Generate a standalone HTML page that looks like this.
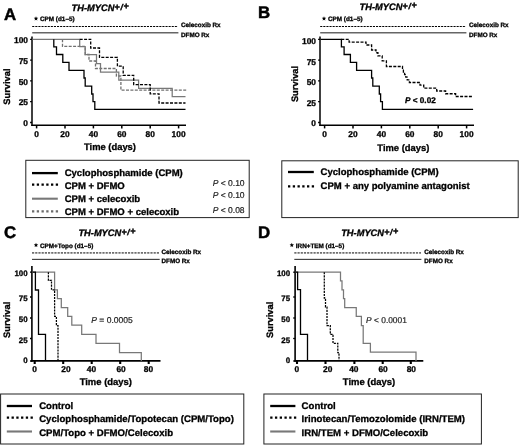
<!DOCTYPE html>
<html lang="en"><head><meta charset="utf-8"><title>Survival curves TH-MYCN</title>
<style>
html,body{margin:0;padding:0;background:#fff;}
body{width:520px;height:445px;overflow:hidden;}
svg{display:block;font-family:"Liberation Sans",Arial,Helvetica,sans-serif;text-rendering:geometricPrecision;}
svg text{stroke:#000;stroke-width:.3px;}
svg text.pv{stroke:#222;stroke-width:.2px;}
svg text.pl{stroke-width:.5px;}
</style></head><body>
<svg width="520" height="445" viewBox="0 0 520 445">
<rect width="520" height="445" fill="#fff"/>
<text x="4.10" y="20.00" font-size="16.8" font-weight="bold" text-anchor="start" fill="#000" class="pl">A</text>
<text x="71.60" y="11.00" font-size="9.3" font-weight="bold" font-style="italic">TH-MYCN<tspan font-size="8.8" dy="-1.4" dx="0.1" stroke-width=".45">+</tspan><tspan font-size="8.2" dy="0.6" dx="0.8" stroke-width=".4">/</tspan><tspan font-size="8.8" dy="-1.3" dx="0.7" stroke-width=".45">+</tspan></text>
<polygon points="36.00,16.25 36.61,17.76 38.23,17.87 36.98,18.92 37.38,20.50 36.00,19.63 34.62,20.50 35.02,18.92 33.77,17.87 35.39,17.76" fill="#000"/>
<text x="40.00" y="21.30" font-size="6.35" font-weight="bold" text-anchor="start" fill="#000">CPM (d1–5)</text>
<line x1="32.20" y1="26.50" x2="178.00" y2="26.50" stroke="#000" stroke-width="1.15" stroke-dasharray="2.1 1.0"/>
<line x1="32.20" y1="32.75" x2="178.40" y2="32.75" stroke="#666" stroke-width="1.7"/>
<text x="181.00" y="27.40" font-size="6.3" font-weight="bold" text-anchor="start" fill="#000">Celecoxib Rx</text>
<text x="181.00" y="36.60" font-size="6.3" font-weight="bold" text-anchor="start" fill="#000">DFMO Rx</text>
<line x1="32.00" y1="36.50" x2="32.00" y2="126.10" stroke="#000" stroke-width="1.5"/>
<line x1="31.30" y1="125.35" x2="186.00" y2="125.35" stroke="#000" stroke-width="1.5"/>
<line x1="30.10" y1="39.30" x2="32.00" y2="39.30" stroke="#000" stroke-width="1.3"/>
<text x="28.00" y="43.00" font-size="8.4" font-weight="bold" text-anchor="end" fill="#000">100</text>
<line x1="30.10" y1="60.10" x2="32.00" y2="60.10" stroke="#000" stroke-width="1.3"/>
<text x="28.00" y="64.00" font-size="8.4" font-weight="bold" text-anchor="end" fill="#000">75</text>
<line x1="30.10" y1="80.90" x2="32.00" y2="80.90" stroke="#000" stroke-width="1.3"/>
<text x="28.00" y="85.00" font-size="8.4" font-weight="bold" text-anchor="end" fill="#000">50</text>
<line x1="30.10" y1="101.70" x2="32.00" y2="101.70" stroke="#000" stroke-width="1.3"/>
<text x="28.00" y="105.00" font-size="8.4" font-weight="bold" text-anchor="end" fill="#000">25</text>
<line x1="30.10" y1="122.50" x2="32.00" y2="122.50" stroke="#000" stroke-width="1.3"/>
<text x="28.00" y="126.00" font-size="8.4" font-weight="bold" text-anchor="end" fill="#000">0</text>
<line x1="36.60" y1="125.20" x2="36.60" y2="128.40" stroke="#000" stroke-width="1.5"/>
<text x="36.60" y="137.00" font-size="8.4" font-weight="bold" text-anchor="middle" fill="#000">0</text>
<line x1="65.00" y1="125.20" x2="65.00" y2="128.40" stroke="#000" stroke-width="1.5"/>
<text x="65.00" y="137.00" font-size="8.4" font-weight="bold" text-anchor="middle" fill="#000">20</text>
<line x1="93.40" y1="125.20" x2="93.40" y2="128.40" stroke="#000" stroke-width="1.5"/>
<text x="93.40" y="137.00" font-size="8.4" font-weight="bold" text-anchor="middle" fill="#000">40</text>
<line x1="121.80" y1="125.20" x2="121.80" y2="128.40" stroke="#000" stroke-width="1.5"/>
<text x="121.80" y="137.00" font-size="8.4" font-weight="bold" text-anchor="middle" fill="#000">60</text>
<line x1="150.20" y1="125.20" x2="150.20" y2="128.40" stroke="#000" stroke-width="1.5"/>
<text x="150.20" y="137.00" font-size="8.4" font-weight="bold" text-anchor="middle" fill="#000">80</text>
<line x1="178.60" y1="125.20" x2="178.60" y2="128.40" stroke="#000" stroke-width="1.5"/>
<text x="178.60" y="137.00" font-size="8.4" font-weight="bold" text-anchor="middle" fill="#000">100</text>
<text transform="translate(10.30,86.6) rotate(-90)" font-size="9.3" font-weight="bold" text-anchor="middle">Survival</text>
<text x="110.00" y="149.70" font-size="9.4" font-weight="bold" text-anchor="middle" fill="#000">Time (days)</text>
<path d="M62.50 39.30 L62.50 46.30 L85.20 46.30 L85.20 54.50 L89.00 54.50 L89.00 61.00 L95.50 61.00 L95.50 68.50 L116.40 68.50 L116.40 76.00 L120.90 76.00 L120.90 90.20 L186.50 90.20" fill="none" stroke="#707070" stroke-width="1.3" stroke-dasharray="3 1.4" stroke-linejoin="miter"/>
<path d="M32.50 39.30 L79.70 39.30 L79.70 46.50 L85.20 46.50 L85.20 54.50 L96.50 54.50 L96.50 63.50 L100.50 63.50 L100.50 72.00 L118.80 72.00 L118.80 80.20 L138.60 80.20 L138.60 88.40 L172.20 88.40 L172.20 96.50 L185.50 96.50" fill="none" stroke="#787878" stroke-width="1.25" stroke-linejoin="miter"/>
<path d="M79.70 39.30 L90.70 39.30 L90.70 48.00 L99.50 48.00 L99.50 57.30 L117.40 57.30 L117.40 66.20 L123.20 66.20 L123.20 75.40 L133.70 75.40 L133.70 84.60 L150.20 84.60 L150.20 93.80 L159.00 93.80 L159.00 103.00 L185.50 103.00" fill="none" stroke="#000" stroke-width="1.3" stroke-dasharray="3 1.4" stroke-linejoin="miter"/>
<path d="M53.80 39.30 L53.80 46.80 L56.50 46.80 L56.50 54.50 L62.80 54.50 L62.80 62.30 L69.00 62.30 L69.00 70.30 L84.00 70.30 L84.00 78.00 L85.20 78.00 L85.20 86.20 L91.70 86.20 L91.70 94.00 L93.00 94.00 L93.00 101.60 L94.80 101.60 L94.80 109.30 L185.50 109.30" fill="none" stroke="#000" stroke-width="1.3" stroke-linejoin="miter"/>
<rect x="25.8" y="160.3" width="223.4" height="57.3" fill="#fff" stroke="#222" stroke-width="1"/>
<line x1="32.00" y1="173.10" x2="57.80" y2="173.10" stroke="#000" stroke-width="2.3"/>
<text x="64.70" y="176.10" font-size="9.54" font-weight="bold" text-anchor="start" fill="#000">Cyclophosphamide (CPM)</text>
<line x1="32.00" y1="184.70" x2="59.00" y2="184.70" stroke="#000" stroke-width="2.2" stroke-dasharray="2.3 2.45"/>
<text x="64.70" y="188.70" font-size="9.54" font-weight="bold" text-anchor="start" fill="#000">CPM + DFMO</text>
<line x1="32.00" y1="198.70" x2="57.80" y2="198.70" stroke="#787878" stroke-width="2.1"/>
<text x="64.70" y="202.40" font-size="9.54" font-weight="bold" text-anchor="start" fill="#000">CPM + celecoxib</text>
<line x1="32.00" y1="211.30" x2="59.00" y2="211.30" stroke="#6c6c6c" stroke-width="2.2" stroke-dasharray="2.3 2.45"/>
<text x="64.70" y="214.80" font-size="9.54" font-weight="bold" text-anchor="start" fill="#000">CPM + DFMO + celecoxib</text>
<text x="212.7" y="186" font-size="8.5" fill="#222" class="pv"><tspan font-style="italic">P</tspan> &lt; 0.10</text>
<text x="212.7" y="198" font-size="8.5" fill="#222" class="pv"><tspan font-style="italic">P</tspan> &lt; 0.10</text>
<text x="212.7" y="213" font-size="8.5" fill="#222" class="pv"><tspan font-style="italic">P</tspan> &lt; 0.08</text>
<text x="258.00" y="18.00" font-size="16.8" font-weight="bold" text-anchor="start" fill="#000" class="pl">B</text>
<text x="359.60" y="10.00" font-size="9.3" font-weight="bold" font-style="italic">TH-MYCN<tspan font-size="8.8" dy="-1.4" dx="0.1" stroke-width=".45">+</tspan><tspan font-size="8.2" dy="0.6" dx="0.8" stroke-width=".4">/</tspan><tspan font-size="8.8" dy="-1.3" dx="0.7" stroke-width=".45">+</tspan></text>
<polygon points="324.00,16.25 324.61,17.76 326.23,17.87 324.98,18.92 325.38,20.50 324.00,19.63 322.62,20.50 323.02,18.92 321.77,17.87 323.39,17.76" fill="#000"/>
<text x="328.00" y="21.30" font-size="6.35" font-weight="bold" text-anchor="start" fill="#000">CPM (d1–5)</text>
<line x1="320.20" y1="26.50" x2="466.00" y2="26.50" stroke="#000" stroke-width="1.15" stroke-dasharray="2.1 1.0"/>
<line x1="320.20" y1="32.75" x2="466.40" y2="32.75" stroke="#666" stroke-width="1.7"/>
<text x="469.00" y="27.40" font-size="6.3" font-weight="bold" text-anchor="start" fill="#000">Celecoxib Rx</text>
<text x="469.00" y="36.60" font-size="6.3" font-weight="bold" text-anchor="start" fill="#000">DFMO Rx</text>
<line x1="320.00" y1="36.50" x2="320.00" y2="126.10" stroke="#000" stroke-width="1.5"/>
<line x1="319.30" y1="125.35" x2="474.00" y2="125.35" stroke="#000" stroke-width="1.5"/>
<line x1="318.10" y1="39.30" x2="320.00" y2="39.30" stroke="#000" stroke-width="1.3"/>
<text x="316.00" y="44.00" font-size="8.4" font-weight="bold" text-anchor="end" fill="#000">100</text>
<line x1="318.10" y1="60.10" x2="320.00" y2="60.10" stroke="#000" stroke-width="1.3"/>
<text x="316.00" y="65.00" font-size="8.4" font-weight="bold" text-anchor="end" fill="#000">75</text>
<line x1="318.10" y1="80.90" x2="320.00" y2="80.90" stroke="#000" stroke-width="1.3"/>
<text x="316.00" y="85.00" font-size="8.4" font-weight="bold" text-anchor="end" fill="#000">50</text>
<line x1="318.10" y1="101.70" x2="320.00" y2="101.70" stroke="#000" stroke-width="1.3"/>
<text x="316.00" y="106.00" font-size="8.4" font-weight="bold" text-anchor="end" fill="#000">25</text>
<line x1="318.10" y1="122.50" x2="320.00" y2="122.50" stroke="#000" stroke-width="1.3"/>
<text x="316.00" y="126.00" font-size="8.4" font-weight="bold" text-anchor="end" fill="#000">0</text>
<line x1="324.60" y1="125.20" x2="324.60" y2="128.40" stroke="#000" stroke-width="1.5"/>
<text x="324.60" y="137.00" font-size="8.4" font-weight="bold" text-anchor="middle" fill="#000">0</text>
<line x1="353.00" y1="125.20" x2="353.00" y2="128.40" stroke="#000" stroke-width="1.5"/>
<text x="353.00" y="137.00" font-size="8.4" font-weight="bold" text-anchor="middle" fill="#000">20</text>
<line x1="381.40" y1="125.20" x2="381.40" y2="128.40" stroke="#000" stroke-width="1.5"/>
<text x="381.40" y="137.00" font-size="8.4" font-weight="bold" text-anchor="middle" fill="#000">40</text>
<line x1="409.80" y1="125.20" x2="409.80" y2="128.40" stroke="#000" stroke-width="1.5"/>
<text x="409.80" y="137.00" font-size="8.4" font-weight="bold" text-anchor="middle" fill="#000">60</text>
<line x1="438.20" y1="125.20" x2="438.20" y2="128.40" stroke="#000" stroke-width="1.5"/>
<text x="438.20" y="137.00" font-size="8.4" font-weight="bold" text-anchor="middle" fill="#000">80</text>
<line x1="466.60" y1="125.20" x2="466.60" y2="128.40" stroke="#000" stroke-width="1.5"/>
<text x="466.60" y="137.00" font-size="8.4" font-weight="bold" text-anchor="middle" fill="#000">100</text>
<text transform="translate(298.30,84.0) rotate(-90)" font-size="9.3" font-weight="bold" text-anchor="middle">Survival</text>
<text x="403.30" y="151.00" font-size="9.4" font-weight="bold" text-anchor="middle" fill="#000">Time (days)</text>
<path d="M320.50 39.30 L341.40 39.30 L341.40 46.80 L344.10 46.80 L344.10 54.50 L350.40 54.50 L350.40 62.30 L356.60 62.30 L356.60 70.30 L371.60 70.30 L371.60 78.00 L372.80 78.00 L372.80 86.20 L379.30 86.20 L379.30 94.00 L380.60 94.00 L380.60 101.60 L382.40 101.60 L382.40 109.30 L473.10 109.30" fill="none" stroke="#000" stroke-width="1.3" stroke-linejoin="miter"/>
<path d="M341.30 39.30 L349.10 39.30 L349.10 42.10 L366.00 42.10 L366.00 45.00 L371.60 45.00 L371.60 50.00 L376.00 50.00 L376.00 52.75 L377.90 52.75 L377.90 55.90 L382.20 55.90 L382.20 60.80 L386.40 60.80 L386.40 66.50 L402.50 66.50 L402.50 69.20 L403.40 69.20 L403.40 72.00 L404.60 72.00 L404.60 74.60 L405.80 74.60 L405.80 77.20 L407.20 77.20 L407.20 79.80 L409.40 79.80 L409.40 82.50 L420.00 82.50 L420.00 85.20 L423.75 85.20 L423.75 88.20 L436.70 88.20 L436.70 91.00 L445.60 91.00 L445.60 93.75 L455.60 93.75 L455.60 96.50 L472.80 96.50" fill="none" stroke="#000" stroke-width="1.3" stroke-dasharray="3 1.4" stroke-linejoin="miter"/>
<text x="405" y="102.6" font-size="8.2" font-weight="bold"><tspan font-style="italic">P</tspan> &lt; 0.02</text>
<rect x="281.8" y="160.8" width="236.4" height="56.8" fill="#fff" stroke="#222" stroke-width="1"/>
<line x1="288.00" y1="172.00" x2="313.80" y2="172.00" stroke="#000" stroke-width="2.3"/>
<text x="320.60" y="175.10" font-size="9.54" font-weight="bold" text-anchor="start" fill="#000">Cyclophosphamide (CPM)</text>
<line x1="288.00" y1="186.30" x2="315.00" y2="186.30" stroke="#000" stroke-width="2.2" stroke-dasharray="2.3 2.45"/>
<text x="320.60" y="188.90" font-size="9.54" font-weight="bold" text-anchor="start" fill="#000">CPM + any polyamine antagonist</text>
<text x="3.90" y="238.00" font-size="16.8" font-weight="bold" text-anchor="start" fill="#000" class="pl">C</text>
<text x="78.40" y="236.00" font-size="9.3" font-weight="bold" font-style="italic">TH-MYCN<tspan font-size="8.8" dy="-1.4" dx="0.1" stroke-width=".45">+</tspan><tspan font-size="8.2" dy="0.6" dx="0.8" stroke-width=".4">/</tspan><tspan font-size="8.8" dy="-1.3" dx="0.7" stroke-width=".45">+</tspan></text>
<polygon points="36.00,242.85 36.61,244.36 38.23,244.47 36.98,245.52 37.38,247.10 36.00,246.23 34.62,247.10 35.02,245.52 33.77,244.47 35.39,244.36" fill="#000"/>
<text x="40.00" y="247.80" font-size="6.35" font-weight="bold" text-anchor="start" fill="#000">CPM+Topo (d1–5)</text>
<line x1="32.00" y1="252.85" x2="159.30" y2="252.85" stroke="#707070" stroke-width="1.9" stroke-dasharray="2.2 1.0"/>
<line x1="32.00" y1="259.35" x2="159.70" y2="259.35" stroke="#222" stroke-width="1.0"/>
<text x="161.50" y="254.10" font-size="6.3" font-weight="bold" text-anchor="start" fill="#000">Celecoxib Rx</text>
<text x="161.50" y="262.80" font-size="6.3" font-weight="bold" text-anchor="start" fill="#000">DFMO Rx</text>
<line x1="31.90" y1="265.90" x2="31.90" y2="361.70" stroke="#000" stroke-width="1.6"/>
<line x1="31.20" y1="360.90" x2="160.50" y2="360.90" stroke="#000" stroke-width="1.6"/>
<line x1="30.00" y1="272.20" x2="31.90" y2="272.20" stroke="#000" stroke-width="1.3"/>
<text x="27.60" y="276.35" font-size="7.9" font-weight="bold" text-anchor="end" fill="#000">100</text>
<line x1="30.00" y1="297.00" x2="31.90" y2="297.00" stroke="#000" stroke-width="1.3"/>
<text x="27.60" y="301.15" font-size="7.9" font-weight="bold" text-anchor="end" fill="#000">75</text>
<line x1="30.00" y1="318.00" x2="31.90" y2="318.00" stroke="#000" stroke-width="1.3"/>
<text x="27.60" y="321.85" font-size="7.9" font-weight="bold" text-anchor="end" fill="#000">50</text>
<line x1="30.00" y1="338.50" x2="31.90" y2="338.50" stroke="#000" stroke-width="1.3"/>
<text x="27.60" y="342.75" font-size="7.9" font-weight="bold" text-anchor="end" fill="#000">25</text>
<line x1="30.00" y1="361.00" x2="31.90" y2="361.00" stroke="#000" stroke-width="1.3"/>
<text x="27.60" y="363.45" font-size="7.9" font-weight="bold" text-anchor="end" fill="#000">0</text>
<line x1="34.70" y1="361.00" x2="34.70" y2="364.00" stroke="#000" stroke-width="2.1"/>
<text x="34.70" y="372.00" font-size="8.4" font-weight="bold" text-anchor="middle" fill="#000">0</text>
<line x1="63.20" y1="361.00" x2="63.20" y2="364.00" stroke="#000" stroke-width="2.1"/>
<text x="66.00" y="372.00" font-size="8.4" font-weight="bold" text-anchor="middle" fill="#000">20</text>
<line x1="91.70" y1="361.00" x2="91.70" y2="364.00" stroke="#000" stroke-width="2.1"/>
<text x="91.40" y="372.00" font-size="8.4" font-weight="bold" text-anchor="middle" fill="#000">40</text>
<line x1="120.20" y1="361.00" x2="120.20" y2="364.00" stroke="#000" stroke-width="2.1"/>
<text x="121.10" y="372.00" font-size="8.4" font-weight="bold" text-anchor="middle" fill="#000">60</text>
<line x1="148.70" y1="361.00" x2="148.70" y2="364.00" stroke="#000" stroke-width="2.1"/>
<text x="148.50" y="372.00" font-size="8.4" font-weight="bold" text-anchor="middle" fill="#000">80</text>
<text transform="translate(10.30,319.8) rotate(-90)" font-size="9.3" font-weight="bold" text-anchor="middle">Survival</text>
<text x="105.80" y="385.00" font-size="9.45" font-weight="bold" text-anchor="middle" fill="#000">Time (days)</text>
<path d="M32.50 272.20 L54.60 272.20 L54.60 289.80 L57.40 289.80 L57.40 298.70 L61.30 298.70 L61.30 307.50 L67.70 307.50 L67.70 316.30 L71.80 316.30 L71.80 325.10 L81.70 325.10 L81.70 334.30 L96.00 334.30 L96.00 343.40 L119.50 343.40 L119.50 352.50 L141.30 352.50 L141.30 361.00" fill="none" stroke="#787878" stroke-width="1.25" stroke-linejoin="miter"/>
<path d="M48.40 272.20 L48.40 280.40 L51.50 280.40 L51.50 289.80 L54.60 289.80 L54.60 316.30 L56.40 316.30 L56.40 325.50 L58.00 325.50 L58.00 361.00" fill="none" stroke="#000" stroke-width="1.25" stroke-dasharray="2.1 1.0" stroke-linejoin="miter"/>
<path d="M32.50 272.20 L35.40 272.20 L35.40 290.00 L38.50 290.00 L38.50 334.30 L45.50 334.30 L45.50 361.00" fill="none" stroke="#000" stroke-width="1.3" stroke-linejoin="miter"/>
<text x="91.3" y="322.7" font-size="8.5" fill="#222" class="pv"><tspan font-style="italic">P</tspan> = 0.0005</text>
<rect x="0.6" y="394" width="243.2" height="50" fill="#fff" stroke="#222" stroke-width="1"/>
<line x1="6.80" y1="406.00" x2="32.00" y2="406.00" stroke="#000" stroke-width="2.3"/>
<text x="39.20" y="409.00" font-size="9.6" font-weight="bold" text-anchor="start" fill="#000">Control</text>
<line x1="6.80" y1="417.60" x2="33.20" y2="417.60" stroke="#000" stroke-width="2.2" stroke-dasharray="2.3 2.45"/>
<text x="39.20" y="422.00" font-size="9.6" font-weight="bold" text-anchor="start" fill="#000">Cyclophosphamide/Topotecan (CPM/Topo)</text>
<line x1="6.80" y1="431.50" x2="32.00" y2="431.50" stroke="#787878" stroke-width="2.1"/>
<text x="39.20" y="436.00" font-size="9.6" font-weight="bold" text-anchor="start" fill="#000">CPM/Topo + DFMO/Celecoxib</text>
<text x="258.10" y="238.00" font-size="16.8" font-weight="bold" text-anchor="start" fill="#000" class="pl">D</text>
<text x="341.20" y="236.00" font-size="9.3" font-weight="bold" font-style="italic">TH-MYCN<tspan font-size="8.8" dy="-1.4" dx="0.1" stroke-width=".45">+</tspan><tspan font-size="8.2" dy="0.6" dx="0.8" stroke-width=".4">/</tspan><tspan font-size="8.8" dy="-1.3" dx="0.7" stroke-width=".45">+</tspan></text>
<polygon points="291.80,242.85 292.41,244.36 294.03,244.47 292.78,245.52 293.18,247.10 291.80,246.23 290.42,247.10 290.82,245.52 289.57,244.47 291.19,244.36" fill="#000"/>
<text x="295.80" y="247.80" font-size="6.35" font-weight="bold" text-anchor="start" fill="#000">IRN+TEM (d1–5)</text>
<line x1="294.30" y1="252.85" x2="421.00" y2="252.85" stroke="#707070" stroke-width="1.9" stroke-dasharray="2.2 1.0"/>
<line x1="294.30" y1="259.35" x2="421.40" y2="259.35" stroke="#222" stroke-width="1.0"/>
<text x="424.30" y="254.10" font-size="6.3" font-weight="bold" text-anchor="start" fill="#000">Celecoxib Rx</text>
<text x="424.30" y="262.80" font-size="6.3" font-weight="bold" text-anchor="start" fill="#000">DFMO Rx</text>
<line x1="295.10" y1="265.90" x2="295.10" y2="361.70" stroke="#000" stroke-width="1.6"/>
<line x1="294.40" y1="360.90" x2="423.30" y2="360.90" stroke="#000" stroke-width="1.6"/>
<line x1="293.20" y1="272.20" x2="295.10" y2="272.20" stroke="#000" stroke-width="1.3"/>
<text x="290.10" y="276.35" font-size="7.9" font-weight="bold" text-anchor="end" fill="#000">100</text>
<line x1="293.20" y1="297.00" x2="295.10" y2="297.00" stroke="#000" stroke-width="1.3"/>
<text x="290.10" y="301.15" font-size="7.9" font-weight="bold" text-anchor="end" fill="#000">75</text>
<line x1="293.20" y1="318.00" x2="295.10" y2="318.00" stroke="#000" stroke-width="1.3"/>
<text x="290.10" y="321.85" font-size="7.9" font-weight="bold" text-anchor="end" fill="#000">50</text>
<line x1="293.20" y1="338.50" x2="295.10" y2="338.50" stroke="#000" stroke-width="1.3"/>
<text x="290.10" y="342.75" font-size="7.9" font-weight="bold" text-anchor="end" fill="#000">25</text>
<line x1="293.20" y1="361.00" x2="295.10" y2="361.00" stroke="#000" stroke-width="1.3"/>
<text x="290.10" y="363.45" font-size="7.9" font-weight="bold" text-anchor="end" fill="#000">0</text>
<line x1="297.00" y1="361.00" x2="297.00" y2="364.00" stroke="#000" stroke-width="2.1"/>
<text x="296.80" y="372.00" font-size="8.4" font-weight="bold" text-anchor="middle" fill="#000">0</text>
<line x1="325.50" y1="361.00" x2="325.50" y2="364.00" stroke="#000" stroke-width="2.1"/>
<text x="327.75" y="372.00" font-size="8.4" font-weight="bold" text-anchor="middle" fill="#000">20</text>
<line x1="354.40" y1="361.00" x2="354.40" y2="364.00" stroke="#000" stroke-width="2.1"/>
<text x="353.85" y="372.00" font-size="8.4" font-weight="bold" text-anchor="middle" fill="#000">40</text>
<line x1="382.70" y1="361.00" x2="382.70" y2="364.00" stroke="#000" stroke-width="2.1"/>
<text x="383.10" y="372.00" font-size="8.4" font-weight="bold" text-anchor="middle" fill="#000">60</text>
<line x1="410.80" y1="361.00" x2="410.80" y2="364.00" stroke="#000" stroke-width="2.1"/>
<text x="411.30" y="372.00" font-size="8.4" font-weight="bold" text-anchor="middle" fill="#000">80</text>
<text transform="translate(272.70,319.8) rotate(-90)" font-size="9.3" font-weight="bold" text-anchor="middle">Survival</text>
<text x="369.00" y="385.00" font-size="9.45" font-weight="bold" text-anchor="middle" fill="#000">Time (days)</text>
<path d="M295.30 272.20 L340.50 272.20 L340.50 280.80 L342.00 280.80 L342.00 289.80 L343.50 289.80 L343.50 298.70 L344.70 298.70 L344.70 307.50 L356.25 307.50 L356.25 316.40 L361.40 316.40 L361.40 325.50 L363.20 325.50 L363.20 343.30 L370.40 343.30 L370.40 352.00 L416.00 352.00 L416.00 361.00" fill="none" stroke="#787878" stroke-width="1.25" stroke-linejoin="miter"/>
<path d="M324.30 272.20 L324.30 298.00 L325.50 298.00 L325.50 307.00 L327.00 307.00 L327.00 325.50 L330.30 325.50 L330.30 334.30 L333.00 334.30 L333.00 343.30 L337.80 343.30 L337.80 352.70 L339.00 352.70 L339.00 361.00" fill="none" stroke="#000" stroke-width="1.25" stroke-dasharray="2.1 1.0" stroke-linejoin="miter"/>
<path d="M295.30 272.20 L297.60 272.20 L297.60 289.60 L300.50 289.60 L300.50 334.30 L307.50 334.30 L307.50 361.00" fill="none" stroke="#000" stroke-width="1.3" stroke-linejoin="miter"/>
<text x="366.1" y="322.6" font-size="8.4" fill="#222" class="pv"><tspan font-style="italic">P</tspan> &lt; 0.0001</text>
<rect x="263.9" y="394" width="217.5" height="50" fill="#fff" stroke="#222" stroke-width="1"/>
<line x1="270.20" y1="406.00" x2="295.40" y2="406.00" stroke="#000" stroke-width="2.3"/>
<text x="301.60" y="409.00" font-size="9.6" font-weight="bold" text-anchor="start" fill="#000">Control</text>
<line x1="270.20" y1="417.60" x2="296.60" y2="417.60" stroke="#000" stroke-width="2.2" stroke-dasharray="2.3 2.45"/>
<text x="301.60" y="422.00" font-size="9.6" font-weight="bold" text-anchor="start" fill="#000">Irinotecan/Temozolomide (IRN/TEM)</text>
<line x1="270.20" y1="431.50" x2="295.40" y2="431.50" stroke="#787878" stroke-width="2.1"/>
<text x="301.60" y="436.00" font-size="9.6" font-weight="bold" text-anchor="start" fill="#000">IRN/TEM + DFMO/Celecoxib</text>
</svg>
</body></html>
